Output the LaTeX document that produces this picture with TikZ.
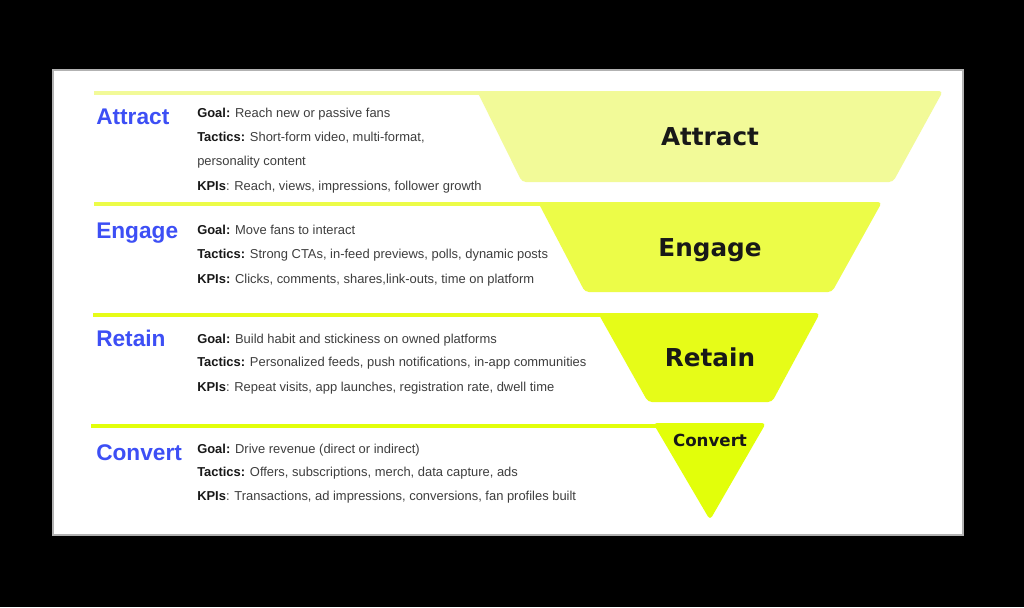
\documentclass[tikz,border=0pt]{standalone}
\usepackage{fontspec}
\setmainfont{Liberation Sans}
\newfontfamily\funnelfont{DejaVu Sans}
\definecolor{bluelbl}{RGB}{61,79,245}
\definecolor{cA}{RGB}{242,250,152}
\definecolor{cE}{RGB}{236,252,72}
\definecolor{cR}{RGB}{230,252,24}
\definecolor{cC}{RGB}{226,255,10}
\definecolor{bodytxt}{RGB}{62,62,62}
\definecolor{boldtxt}{RGB}{24,24,24}
\newcommand{\lb}[1]{\textcolor{boldtxt}{\textbf{#1}}}
\tikzset{
  body/.style={anchor=base west, inner sep=0pt, text=bodytxt, font=\fontsize{9.7}{11}\selectfont},
  stagelbl/.style={anchor=base west, inner sep=0pt, text=bluelbl, font=\fontsize{17}{20}\selectfont\bfseries},
  funnellbl/.style={anchor=base, inner sep=0pt, text=boldtxt, font=\funnelfont\bfseries\fontsize{18.5}{22}\selectfont},
  band/.style={rounded corners=3pt}
}
\begin{document}
\begin{tikzpicture}[x=0.75pt,y=-0.75pt]
\useasboundingbox (0,0) rectangle (1024,607);
\fill[black] (0,0) rectangle (1024,607);
\draw[fill=white, draw=gray!60, line width=0.8pt] (53,70) rectangle (963,535);

% Attract band
\fill[cA] (94,91) rectangle (484,95);
\fill[cA, band] (477,91) -- (943,91) -- (893,182) -- (522,182) -- cycle;
% Engage band
\fill[cE] (94,202) rectangle (545,206);
\fill[cE, band] (538,202) -- (882,202) -- (832,292) -- (585,292) -- cycle;
% Retain band
\fill[cR] (93,313) rectangle (605,317);
\fill[cR, band] (598,313) -- (820,313) -- (772,402) -- (648,402) -- cycle;
% Convert band
\fill[cC] (91,424) rectangle (660,428);
\fill[cC, band] (653,423) -- (766,423) -- (710,520) -- cycle;

% funnel labels
\node[funnellbl] (fA) at (710,145) {Attract};
\node[funnellbl] (fE) at (710,256) {Engage};
\node[funnellbl] (fR) at (710,366) {Retain};
\node[funnellbl, font=\funnelfont\bfseries\fontsize{12.5}{15}\selectfont] (fC) at (710,446) {Convert};

% stage labels
\node[stagelbl] (sA) at (96,124) {Attract};
\node[stagelbl] (sE) at (96,238) {Engage};
\node[stagelbl] (sR) at (96,346) {Retain};
\node[stagelbl] (sC) at (96,460) {Convert};

% Attract text
\node[body] (aG) at (197,117.5) {\lb{Goal:} Reach new or passive fans};
\node[body] (aT) at (197,141.5) {\lb{Tactics:} Short-form video, multi-format,};
\node[body] (aT2) at (197,165.5) {personality content};
\node[body] (aK) at (197,190) {\lb{KPIs}: Reach, views, impressions, follower growth};
% Engage text
\node[body] (eG) at (197,234) {\lb{Goal:} Move fans to interact};
\node[body] (eT) at (197,258.5) {\lb{Tactics:} Strong CTAs, in-feed previews, polls, dynamic posts};
\node[body] (eK) at (197,283) {\lb{KPIs:} Clicks, comments, shares,link-outs, time on platform};
% Retain text
\node[body] (rG) at (197,343) {\lb{Goal:} Build habit and stickiness on owned platforms};
\node[body] (rT) at (197,366.5) {\lb{Tactics:} Personalized feeds, push notifications, in-app communities};
\node[body] (rK) at (197,391) {\lb{KPIs}: Repeat visits, app launches, registration rate, dwell time};
% Convert text
\node[body] (cG) at (197,453) {\lb{Goal:} Drive revenue (direct or indirect)};
\node[body] (cT) at (197,476.5) {\lb{Tactics:} Offers, subscriptions, merch, data capture, ads};
\node[body] (cK) at (197,500.5) {\lb{KPIs}: Transactions, ad impressions, conversions, fan profiles built};
\end{tikzpicture}
\end{document}
